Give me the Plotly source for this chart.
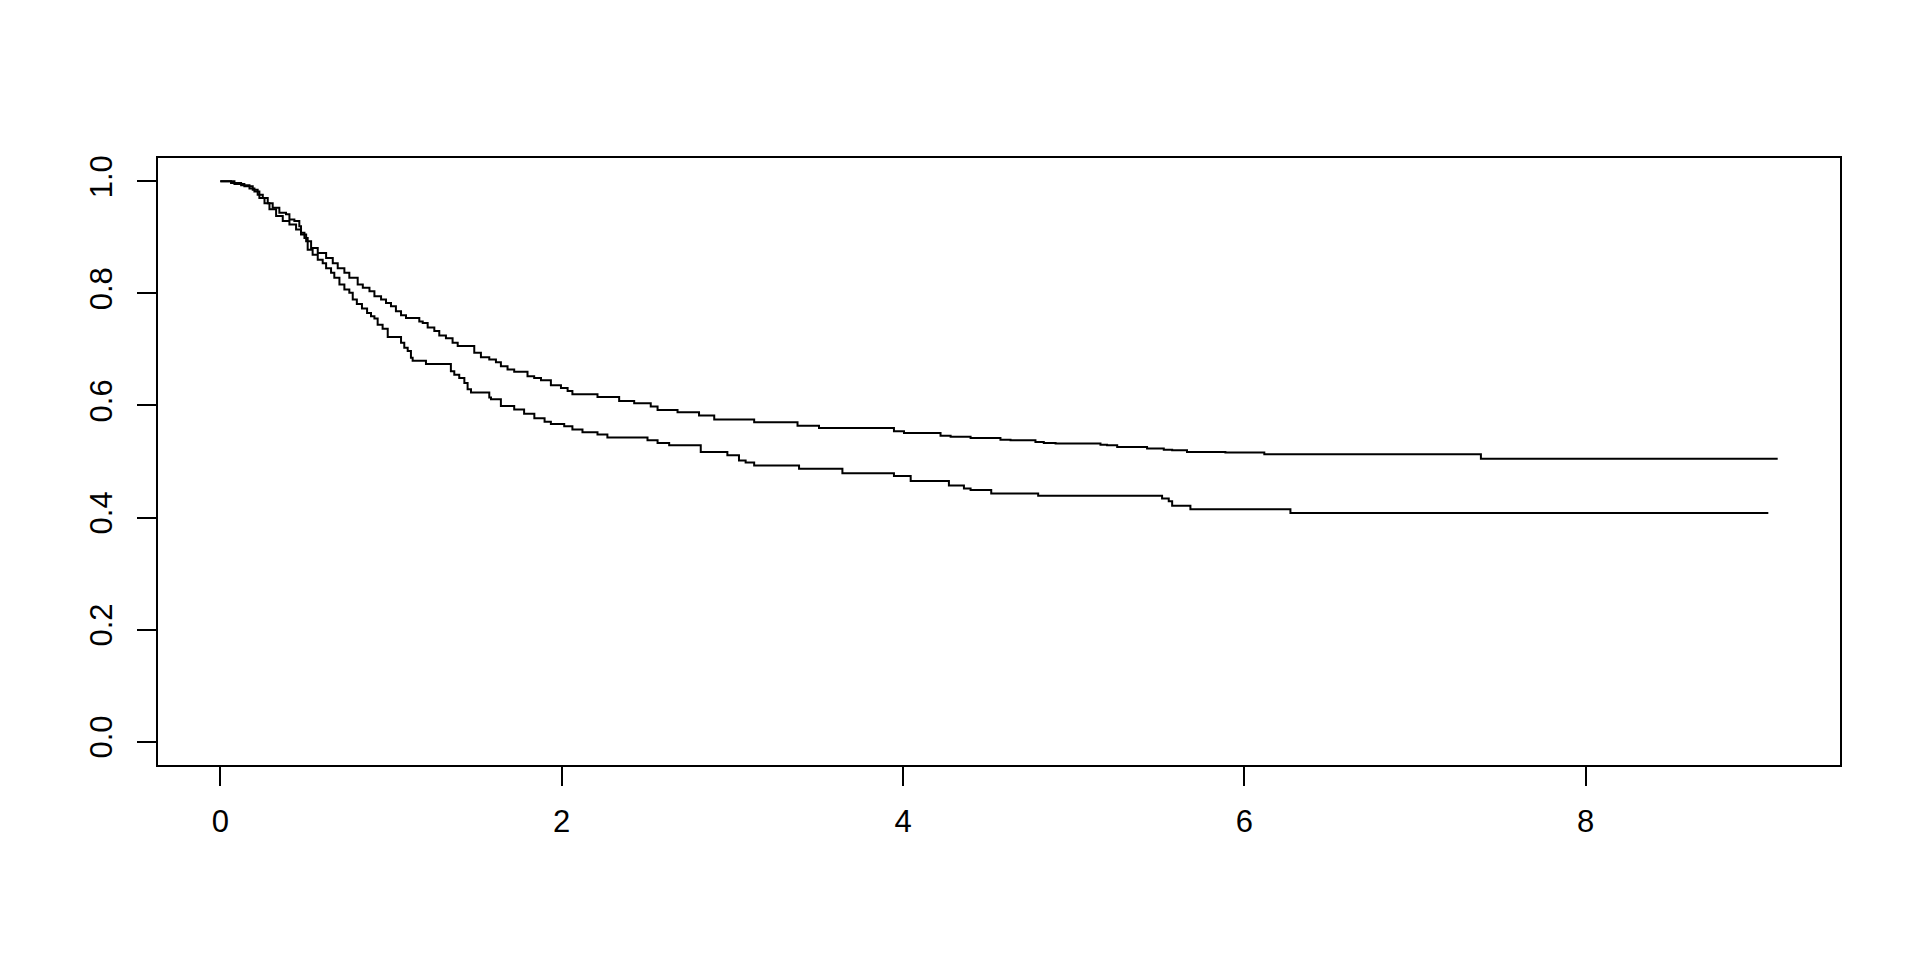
import plotly.graph_objects as go

# survival curve 1 (upper one at the end)
time_a = [0, 0.063, 0.122, 0.171, 0.200, 0.229, 0.259, 0.288, 0.327, 0.366, 0.405, 0.444,
          0.473, 0.503, 0.532, 0.571, 0.620, 0.659, 0.688, 0.727, 0.756, 0.805, 0.835, 0.874,
          0.903, 0.942, 0.971, 1.000, 1.029, 1.059, 1.088, 1.166, 1.186, 1.215, 1.254, 1.283,
          1.322, 1.361, 1.391, 1.488, 1.527, 1.576, 1.615, 1.644, 1.683, 1.722, 1.800, 1.839,
          1.879, 1.937, 1.996, 2.035, 2.063, 2.210, 2.337, 2.425, 2.522, 2.562, 2.679, 2.805,
          2.894, 3.128, 3.382, 3.508, 3.947, 4.006, 4.220, 4.279, 4.396, 4.571, 4.630, 4.776,
          4.825, 4.894, 5.157, 5.196, 5.255, 5.430, 5.528, 5.577, 5.664, 5.889, 6.117, 7.386,
          9.125]
surv_a = [1.0, 0.997, 0.993, 0.987, 0.982, 0.970, 0.961, 0.950, 0.938, 0.929, 0.923, 0.914,
          0.905, 0.893, 0.881, 0.872, 0.863, 0.854, 0.845, 0.837, 0.828, 0.816, 0.810, 0.804,
          0.795, 0.789, 0.783, 0.777, 0.768, 0.761, 0.756, 0.750, 0.747, 0.739, 0.733, 0.725,
          0.720, 0.712, 0.706, 0.694, 0.686, 0.682, 0.677, 0.670, 0.664, 0.660, 0.652, 0.649,
          0.645, 0.636, 0.631, 0.626, 0.620, 0.615, 0.608, 0.604, 0.598, 0.592, 0.588, 0.582,
          0.575, 0.570, 0.564, 0.560, 0.554, 0.551, 0.546, 0.544, 0.542, 0.539, 0.538, 0.535,
          0.533, 0.532, 0.530, 0.529, 0.526, 0.523, 0.521, 0.520, 0.517, 0.516, 0.513, 0.505,
          0.505]

# survival curve 2 (lower one at the end)
time_b = [0, 0.083, 0.141, 0.190, 0.219, 0.249, 0.278, 0.307, 0.346, 0.385, 0.405, 0.434,
          0.463, 0.473, 0.493, 0.512, 0.541, 0.571, 0.600, 0.620, 0.649, 0.668, 0.698, 0.727,
          0.756, 0.776, 0.800, 0.830, 0.860, 0.883, 0.903, 0.922, 0.951, 0.981, 1.059, 1.078,
          1.098, 1.117, 1.127, 1.205, 1.351, 1.371, 1.400, 1.430, 1.449, 1.469, 1.576, 1.586,
          1.644, 1.722, 1.780, 1.840, 1.900, 1.937, 2.015, 2.063, 2.122, 2.210, 2.268, 2.503,
          2.562, 2.630, 2.815, 2.971, 3.039, 3.078, 3.128, 3.391, 3.645, 3.947, 4.045, 4.269,
          4.357, 4.396, 4.517, 4.792, 5.518, 5.557, 5.577, 5.684, 6.270, 9.070]
surv_b = [1.0, 0.995, 0.991, 0.985, 0.976, 0.970, 0.961, 0.953, 0.944, 0.941, 0.932, 0.929,
          0.920, 0.908, 0.899, 0.878, 0.869, 0.860, 0.854, 0.845, 0.837, 0.828, 0.816, 0.807,
          0.801, 0.789, 0.781, 0.773, 0.765, 0.759, 0.755, 0.744, 0.737, 0.722, 0.712, 0.703,
          0.697, 0.685, 0.680, 0.674, 0.661, 0.655, 0.649, 0.640, 0.629, 0.623, 0.614, 0.611,
          0.599, 0.593, 0.585, 0.577, 0.571, 0.567, 0.563, 0.557, 0.552, 0.548, 0.543, 0.538,
          0.533, 0.529, 0.517, 0.511, 0.502, 0.498, 0.493, 0.487, 0.479, 0.474, 0.465, 0.457,
          0.452, 0.449, 0.443, 0.439, 0.434, 0.429, 0.421, 0.415, 0.408, 0.408]

x_ticks = [0, 2, 4, 6, 8]
y_ticks = [0.0, 0.2, 0.4, 0.6, 0.8, 1.0]

fig = go.Figure()
for t, s in [(time_a, surv_a), (time_b, surv_b)]:
    fig.add_trace(go.Scatter(x=t, y=s, mode='lines', line_shape='hv',
        line=dict(color='black', width=2), showlegend=False))

axis_style = dict(showgrid=False, zeroline=False, showline=True, mirror=True,
    linecolor='black', linewidth=2, ticks='outside', ticklen=19, tickwidth=2,
    tickcolor='black', tickfont=dict(family='Liberation Sans', size=31, color='black'))

fig.update_xaxes(range=[-0.365, 9.49], tickvals=x_ticks, ticktext=[str(v) for v in x_ticks],
    ticklabelstandoff=9, **axis_style)
fig.update_yaxes(range=[-0.0416, 1.0416], tickvals=y_ticks,
    ticktext=['%.1f' % v for v in y_ticks], tickangle=-90, ticklabelstandoff=13, **axis_style)

# page body adds ~8px offset, so margins are trimmed on the top/left
fig.update_layout(width=1920, height=960, paper_bgcolor='white', plot_bgcolor='white',
    margin=dict(l=150, r=88, t=150, b=203))

fig.write_html("out.html")
